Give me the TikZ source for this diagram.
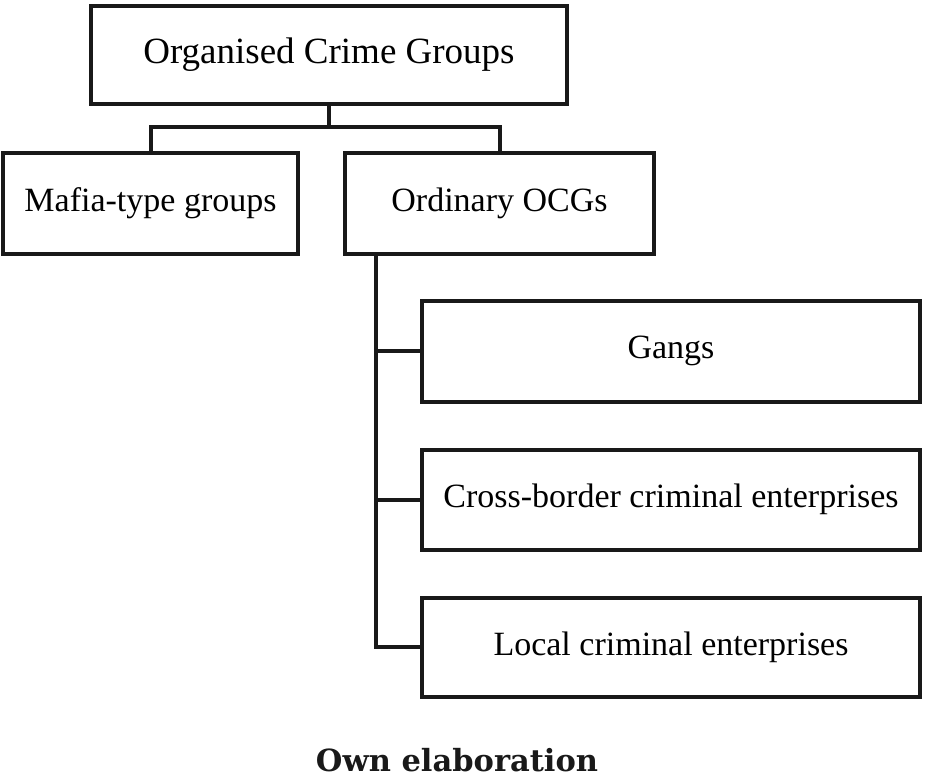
\documentclass[tikz,border=0pt]{standalone}
\usepackage{fontspec}
\setmainfont{Liberation Serif}
\newfontfamily\capfont{DejaVu Serif}
\begin{document}
\begin{tikzpicture}[x=1pt,y=-1pt,
  box/.style={draw=black!90, line width=4pt, fill=white, inner sep=0pt, font=\fontsize{34}{38}\selectfont},
  conn/.style={draw=black!90, line width=4pt}]
\useasboundingbox (0,0) rectangle (928,780);
\node[box, minimum width=476pt, minimum height=98pt, font=\fontsize{37}{40}\selectfont] (top) at (329,55) {Organised Crime Groups};
\node[box, minimum width=295pt, minimum height=101pt] (mafia) at (150.5,203) {Mafia-type groups};
\node[box, minimum width=309pt, minimum height=101pt] (ord) at (499.5,203) {Ordinary OCGs};
\node[box, minimum width=498pt, minimum height=101pt] (gangs) at (671,351) {Gangs};
\node[box, minimum width=498pt, minimum height=100pt] (cross) at (671,499.5) {Cross-border criminal enterprises};
\node[box, minimum width=498pt, minimum height=99pt] (local) at (671,647) {Local criminal enterprises};
\coordinate (hub) at (329,127);
\coordinate (trunk) at (376,254);
\draw[conn] (top.south) -- (hub);
\draw[conn] (mafia.north) |- (hub) -| (ord.north);
\draw[conn] (trunk) |- (local.west);
\draw[conn] (trunk |- gangs.west) -- (gangs.west);
\draw[conn] (trunk |- cross.west) -- (cross.west);
\node[font=\capfont\bfseries\fontsize{30.5}{34}\selectfont, text=black!90, inner sep=0pt, anchor=base] (cap) at (457,771) {Own elaboration};
\end{tikzpicture}
\end{document}
